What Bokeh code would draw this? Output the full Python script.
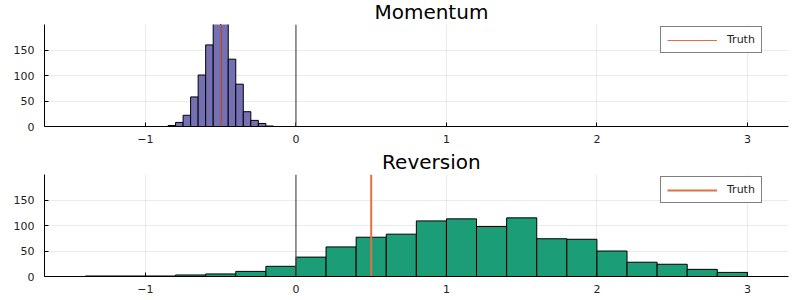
import numpy as np
from bokeh.plotting import figure
from bokeh.layouts import column
from bokeh.models import Range1d, FixedTicker, Span, ColumnDataSource, Legend, LegendItem
from bokeh.core.properties import value
from bokeh.embed import file_html
from bokeh.resources import INLINE

# ---- data ----
mom_start = -0.85
mom_width = 0.05
mom_counts = [2, 8, 22, 58, 101, 160, 210, 205, 132, 83, 29, 12, 6, 1]
mom_truth = -0.5

rev_start = -1.4
rev_width = 0.2
rev_counts = [1, 1, 1, 3, 5, 10, 20, 38, 58, 77, 83, 109, 113, 98, 115, 74, 73, 50, 28, 24, 14, 8]
rev_truth = 0.5

titles = ["Momentum", "Reversion"]
x_ticks = [-1, 0, 1, 2, 3]
x_tick_labels = ["\u22121", "0", "1", "2", "3"]
y_ticks = [0, 50, 100, 150]

FONT = "DejaVu Sans"
X0, X1 = -1.671, 3.273
W = 800
LEFT, RIGHT = 44, 12
TITLE_H = 24


def make_title(text, middle_from_top):
    t = figure(width=W, height=TITLE_H, output_backend="svg", toolbar_location=None,
               x_range=Range1d(0, W), y_range=Range1d(0, TITLE_H), min_border=0)
    t.axis.visible = False
    t.grid.visible = False
    t.outline_line_color = None
    t.text(x=[(LEFT + W - RIGHT) / 2], y=[TITLE_H - middle_from_top], text=[text],
           text_align="center", text_baseline="middle",
           text_font=value(FONT), text_font_size="20px", text_color="black")
    return t


def make(start, width, counts, truth, fill, truth_w):
    n = len(counts)
    left = np.round(start + width * np.arange(n), 6)
    right = np.round(left + width, 6)
    src = ColumnDataSource(dict(left=left, right=right, top=counts, bottom=[0] * n))
    p = figure(width=W, height=126, output_backend="svg", toolbar_location=None,
               x_range=Range1d(X0, X1), y_range=Range1d(0, 200),
               min_border_left=LEFT, min_border_right=RIGHT, min_border_top=0, min_border_bottom=24)
    p.outline_line_color = None
    p.background_fill_color = "white"

    p.quad(left="left", right="right", top="top", bottom="bottom", source=src,
           fill_color=fill, line_color="black", line_width=1)
    p.add_layout(Span(location=0, dimension="height", line_color="#555555", line_width=1.2))
    r = p.segment(x0=[truth], y0=[0], x1=[truth], y1=[200], line_color="#e26f46", line_width=truth_w)

    legend = Legend(items=[LegendItem(label="Truth", renderers=[r])], location=(616, 73))
    legend.border_line_color = "black"
    legend.border_line_width = 1
    legend.background_fill_alpha = 1
    legend.padding = 6
    legend.margin = 0
    legend.spacing = 0
    legend.glyph_width = 50
    legend.glyph_height = 10
    legend.label_height = 10
    legend.label_standoff = 10
    legend.label_text_font = FONT
    legend.label_text_font_size = "11px"
    legend.label_text_color = "#222222"
    p.add_layout(legend, "center")

    for ax in (p.xaxis[0], p.yaxis[0]):
        ax.axis_line_color = "black"
        ax.axis_line_width = 1
        ax.major_tick_in = 4
        ax.major_tick_out = 0
        ax.minor_tick_line_color = None
        ax.major_tick_line_color = "black"
        ax.major_label_text_font = FONT
        ax.major_label_text_font_size = "11px"
        ax.major_label_text_color = "#222222"
    p.xaxis.ticker = FixedTicker(ticks=x_ticks)
    p.xaxis.major_label_overrides = {t: l for t, l in zip(x_ticks, x_tick_labels)}
    p.xaxis.major_label_standoff = 8
    p.yaxis.ticker = FixedTicker(ticks=y_ticks)
    p.yaxis.major_label_standoff = 10

    p.xgrid.ticker = FixedTicker(ticks=x_ticks)
    p.ygrid.ticker = FixedTicker(ticks=y_ticks)
    for g in (p.xgrid[0], p.ygrid[0]):
        g.grid_line_color = "black"
        g.grid_line_alpha = 0.08
        g.grid_line_width = 1
    return p


t1 = make_title(titles[0], 11)
p1 = make(mom_start, mom_width, mom_counts, mom_truth, "#7570b3", 1)
t2 = make_title(titles[1], 11)
p2 = make(rev_start, rev_width, rev_counts, rev_truth, "#1b9e77", 2)
p = column(t1, p1, t2, p2, spacing=0)

open("out.html", "w").write(file_html(p, INLINE))
